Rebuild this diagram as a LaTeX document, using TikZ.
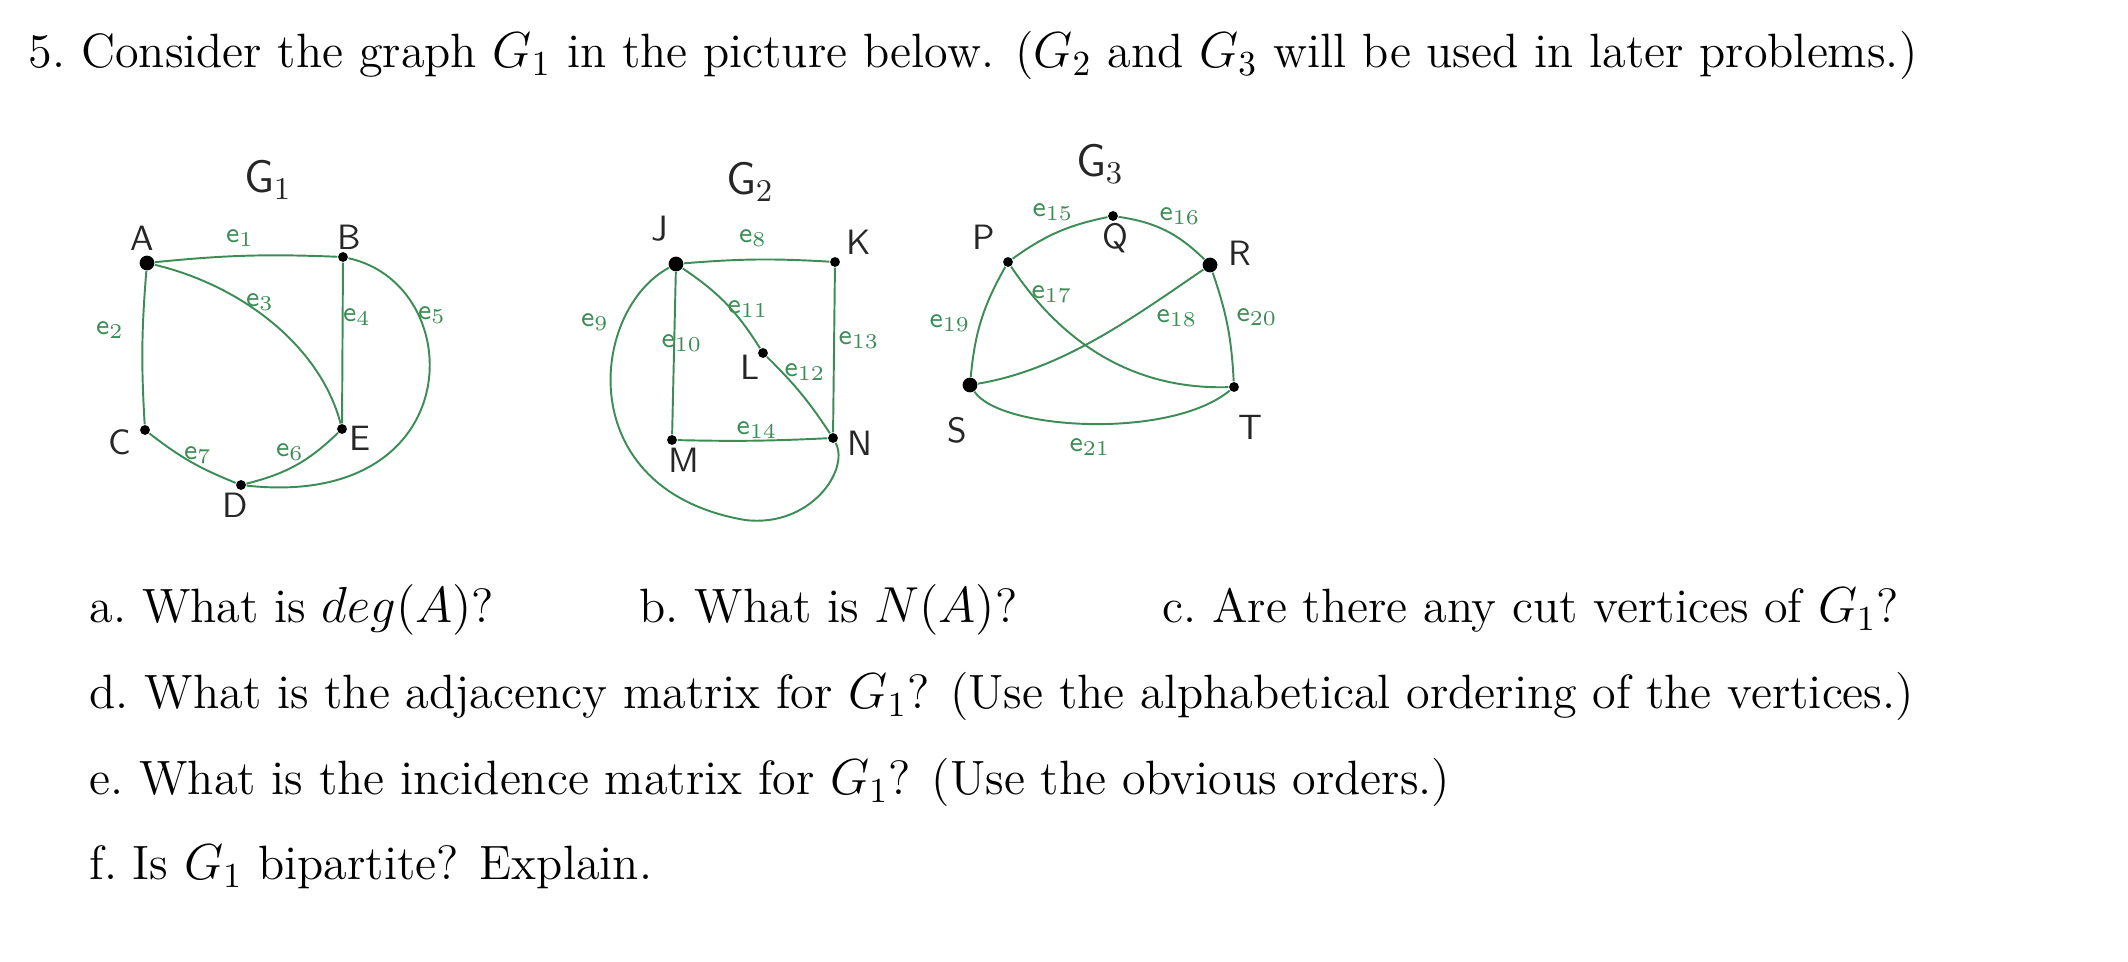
\documentclass[tikz,border=0pt]{standalone}
\usepackage{amsmath}
\begin{document}
\begin{tikzpicture}[x=0.01cm,y=-0.01cm,
  edge/.style={draw=egreen,line width=0.55pt},
  vbig/.style={circle,fill=black,inner sep=0pt,minimum size=4.2pt},
  vsmall/.style={circle,fill=black,inner sep=0pt,minimum size=2.8pt},
  vlab/.style={font=\sffamily\fontsize{10}{12}\selectfont,text=black!85},
  elab/.style={font=\sffamily\fontsize{8}{10}\selectfont,text=egreen},
  glab/.style={font=\sffamily\fontsize{13}{15}\selectfont,text=black!85},
  qtext/.style={anchor=base west,inner sep=0pt,font=\fontsize{13.7}{16}\selectfont}]
\definecolor{egreen}{RGB}{60,140,85}
\useasboundingbox (0,0) rectangle (2128,962);
% header
\node[qtext] (t) at (28,68) {5.\ Consider the graph $G_1$ in the picture below. ($G_2$ and $G_3$ will be used in later problems.)};
% G1
\node[glab] (g1) at (268,180) {G$_1$};
\node[vbig] (A) at (147,263) {}; \node[vlab] (lA) at (142,238) {A};
\node[vsmall] (B) at (343,257) {}; \node[vlab] (lB) at (349,237) {B};
\node[vsmall] (C) at (145,430) {}; \node[vlab] (lC) at (120,442) {C};
\node[vsmall] (D) at (241,485) {}; \node[vlab] (lD) at (235,505) {D};
\node[vsmall] (E) at (342,429) {}; \node[vlab] (lE) at (360,438) {E};
\draw[edge] (A) to[bend left=4] (B);
\draw[edge] (A) to[bend right=4] (C);
\draw[edge] (A) .. controls (240,285) and (320,345) .. (E);
\draw[edge] (B) -- (E);
\draw[edge] (B) .. controls (470,285) and (470,510) .. (D);
\draw[edge] (E) to[bend left=15] (D);
\draw[edge] (C) to[bend left=-8] (D);
\node[elab] (e1) at (240,238) {e$_1$};
\node[elab] (e2) at (110,330) {e$_2$};
\node[elab] (e3) at (260,302) {e$_3$};
\node[elab] (e4) at (357,317) {e$_4$};
\node[elab] (e5) at (432,315) {e$_5$};
\node[elab] (e6) at (290,452) {e$_6$};
\node[elab] (e7) at (198,455) {e$_7$};
% G2
\node[glab] (g2) at (750,182) {G$_2$};
\node[vbig] (J) at (676,264) {}; \node[vlab] (lJ) at (660,229) {J};
\node[vsmall] (K) at (835,262) {}; \node[vlab] (lK) at (859,242) {K};
\node[vsmall] (L) at (763,353) {}; \node[vlab] (lL) at (750,367) {L};
\node[vsmall] (M) at (672,440) {}; \node[vlab] (lM) at (684,460) {M};
\node[vsmall] (N) at (833,438) {}; \node[vlab] (lN) at (860,443) {N};
\draw[edge] (J) to[bend left=4] (K);
\draw[edge] (J) -- (M);
\draw[edge] (J) to[bend left=12] (L);
\draw[edge] (L) to[bend left=6] (N);
\draw[edge] (K) -- (N);
\draw[edge] (M) to[bend right=2] (N);
\draw[edge] (J) .. controls (590,310) and (570,490) .. (745,520) .. controls (810,528) and (850,470) .. (N);
\node[elab] (e8) at (753,238) {e$_8$};
\node[elab] (e9) at (595,322) {e$_9$};
\node[elab] (e10) at (682,343) {e$_{10}$};
\node[elab] (e11) at (748,309) {e$_{11}$};
\node[elab] (e12) at (805,372) {e$_{12}$};
\node[elab] (e13) at (859,340) {e$_{13}$};
\node[elab] (e14) at (757,430) {e$_{14}$};
% G3
\node[glab] (g3) at (1100,164) {G$_3$};
\node[vsmall] (P) at (1008,262) {}; \node[vlab] (lP) at (984,237) {P};
\node[vsmall] (Q) at (1113,216) {}; \node[vlab] (lQ) at (1115,238) {Q};
\node[vbig] (R) at (1210,265) {}; \node[vlab] (lR) at (1240,253) {R};
\node[vbig] (S) at (970,385) {}; \node[vlab] (lS) at (957,430) {S};
\node[vsmall] (T) at (1234,387) {}; \node[vlab] (lT) at (1250,427) {T};
\draw[edge] (P) to[bend left=12] (Q);
\draw[edge] (Q) to[bend left=18] (R);
\draw[edge] (P) to[bend right=12] (S);
\draw[edge] (R) to[bend left=8] (T);
\draw[edge] (P) .. controls (1060,340) and (1130,390) .. (T);
\draw[edge] (R) .. controls (1130,320) and (1060,370) .. (S);
\draw[edge] (S) .. controls (1000,430) and (1170,440) .. (T);
\node[elab] (e15) at (1053,212) {e$_{15}$};
\node[elab] (e16) at (1180,216) {e$_{16}$};
\node[elab] (e17) at (1052,294) {e$_{17}$};
\node[elab] (e18) at (1177,318) {e$_{18}$};
\node[elab] (e19) at (950,323) {e$_{19}$};
\node[elab] (e20) at (1257,317) {e$_{20}$};
\node[elab] (e21) at (1090,447) {e$_{21}$};
% questions
\node[qtext] (qa) at (89,623) {a.\ What is $deg(A)$?};
\node[qtext] (qb) at (639,623) {b.\ What is $N(A)$?};
\node[qtext] (qc) at (1162,623) {c.\ Are there any cut vertices of $G_1$?};
\node[qtext] (qd) at (89,709) {d.\ What is the adjacency matrix for $G_1$? (Use the alphabetical ordering of the vertices.)};
\node[qtext] (qe) at (89,795) {e.\ What is the incidence matrix for $G_1$? (Use the obvious orders.)};
\node[qtext] (qf) at (89,880) {f.\ Is $G_1$ bipartite? Explain.};
\end{tikzpicture}
\end{document}
